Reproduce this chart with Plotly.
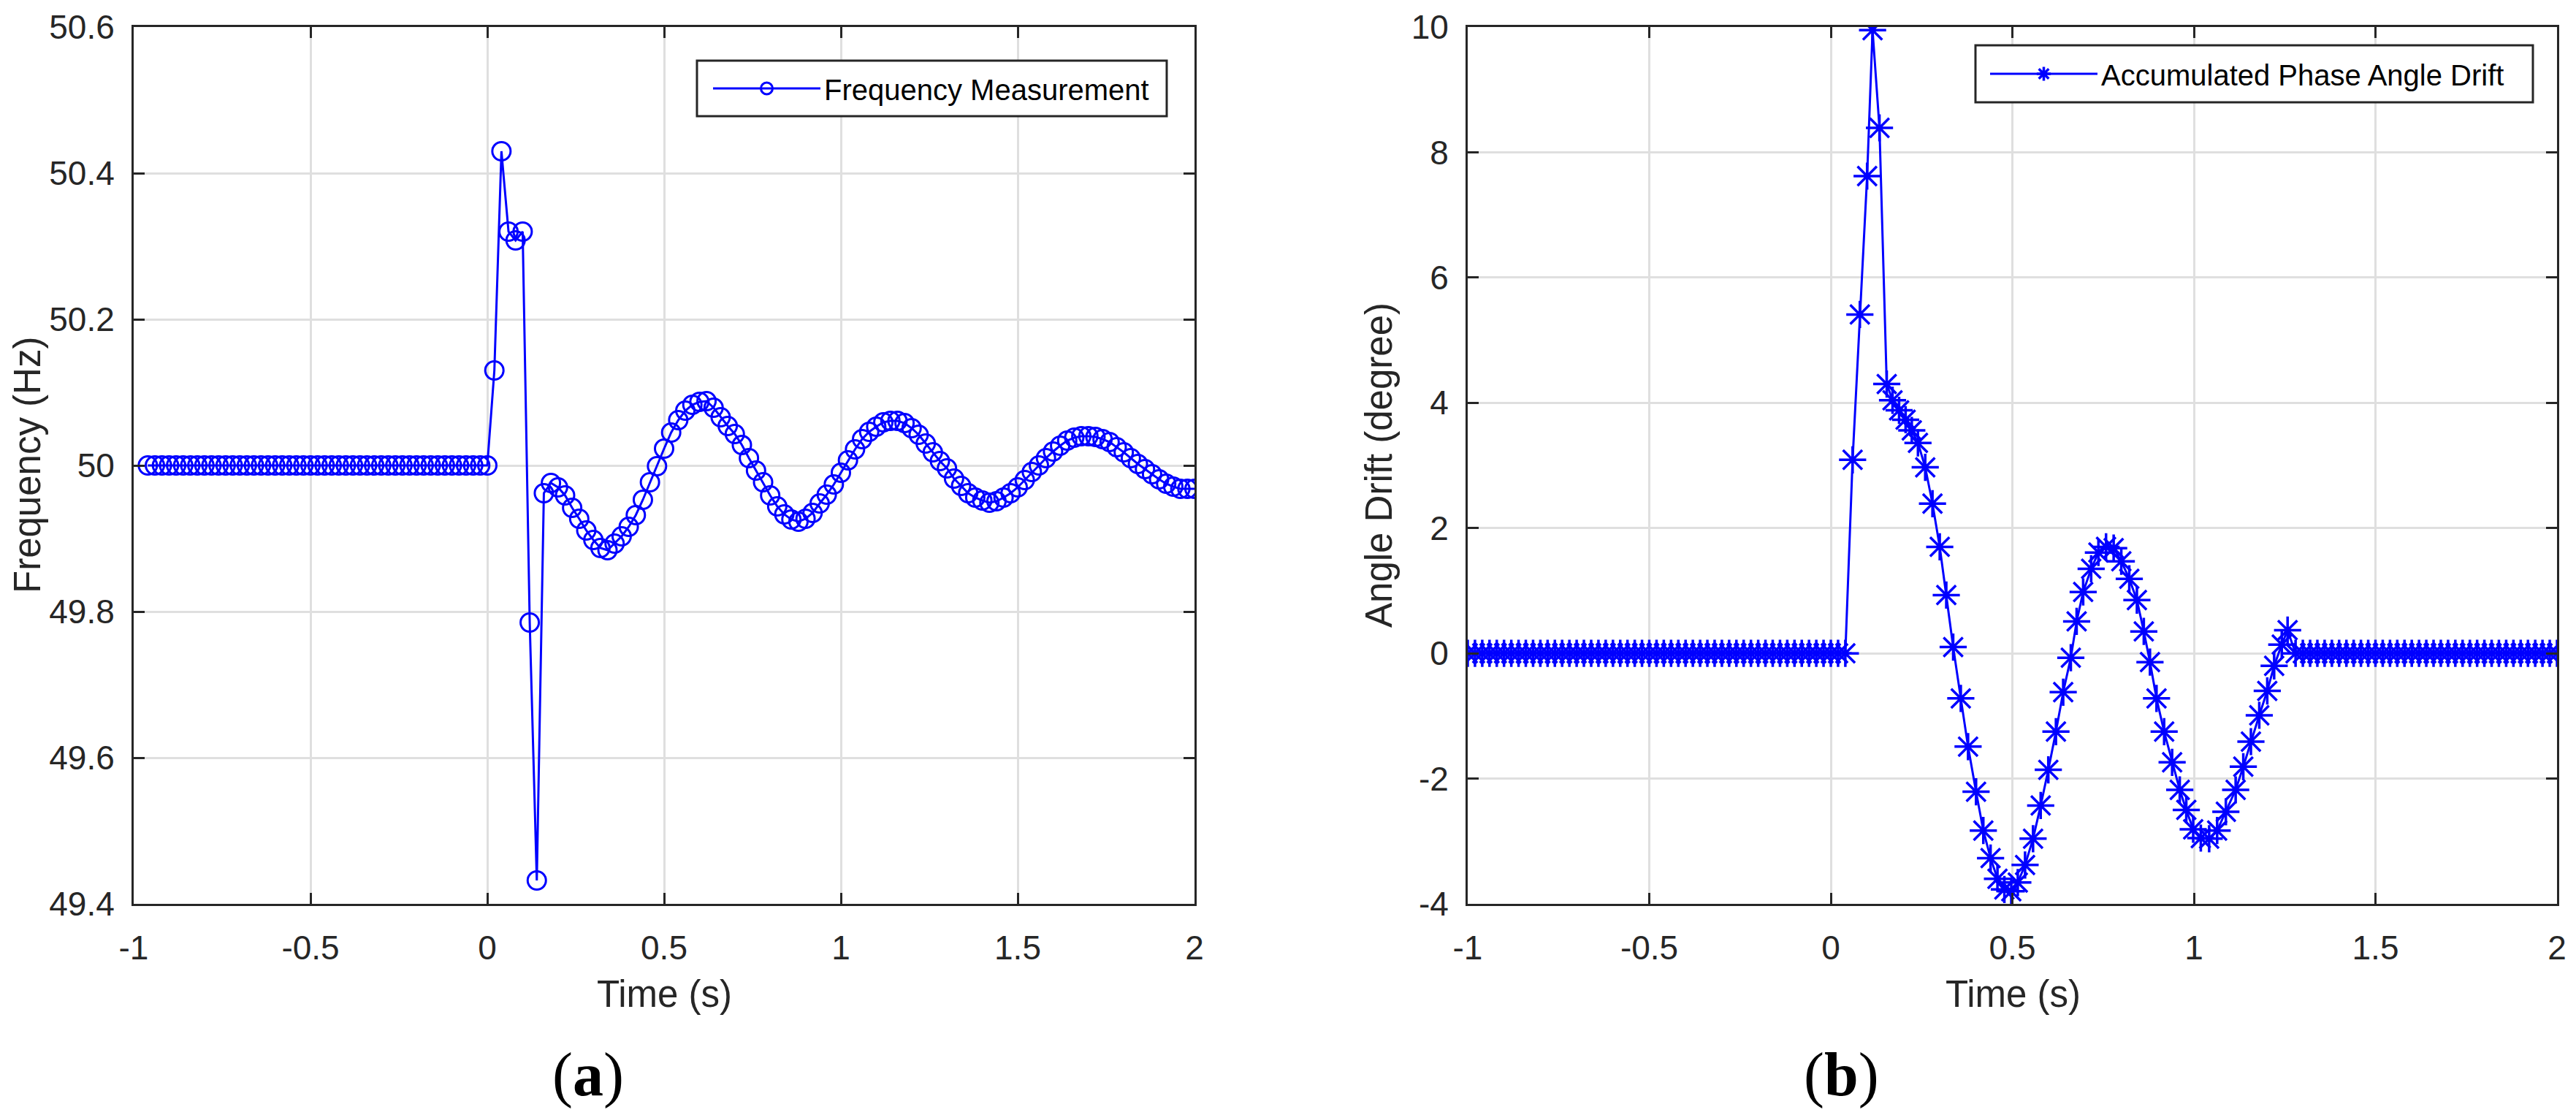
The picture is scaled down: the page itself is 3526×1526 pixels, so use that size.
import numpy as np
import plotly.graph_objects as go

BLUE = "#0000ff"
INK = "#262626"
GRID = "#dfdfdf"
SANS = "Liberation Sans, Arial, sans-serif"
SERIF = "Liberation Serif, Times New Roman, serif"
W, H = 3526, 1526
OFF = 8  # page body margin in the browser


def px(x):
    return (x - OFF) / W


def py(y):
    return 1 - (y - OFF) / H


# ---- (a) frequency measurement, sampled every 0.02 s ----
freq_t = np.round(np.arange(-0.96, 2.0001, 0.02), 2)
freq_pre = [50.0] * 49          # -0.96 .. 0.00 s
freq_post = [                   # 0.02 .. 2.00 s
    50.13, 50.43, 50.32, 50.308, 50.32, 49.785, 49.432, 49.962, 49.976, 49.970,
    49.959, 49.942, 49.927, 49.911, 49.898, 49.887, 49.884, 49.893, 49.903, 49.916,
    49.932, 49.953, 49.977, 49.999, 50.023, 50.045, 50.062, 50.075, 50.083, 50.087,
    50.088, 50.079, 50.066, 50.054, 50.043, 50.028, 50.010, 49.993, 49.977, 49.959,
    49.944, 49.933, 49.926, 49.923, 49.927, 49.935, 49.948, 49.960, 49.974, 49.990,
    50.007, 50.022, 50.036, 50.046, 50.053, 50.059, 50.061, 50.061, 50.058, 50.051,
    50.042, 50.030, 50.018, 50.006, 49.996, 49.982, 49.972, 49.962, 49.956, 49.952,
    49.949, 49.951, 49.956, 49.962, 49.970, 49.980, 49.991, 50.000, 50.010, 50.019,
    50.027, 50.034, 50.038, 50.040, 50.040, 50.039, 50.036, 50.032, 50.025, 50.018,
    50.010, 50.002, 49.995, 49.988, 49.981, 49.975, 49.971, 49.968, 49.968, 49.968,
]
freq_hz = freq_pre + freq_post

# ---- (b) accumulated phase angle drift ----
ang_pre_t = list(np.round(np.arange(-1.0, 0.0401, 0.02), 2))
ang_pre = [0.0] * len(ang_pre_t)
ang_mid_t = [
    0.06, 0.08, 0.10, 0.115, 0.134, 0.154, 0.17, 0.188, 0.206, 0.223,
    0.24, 0.26, 0.28, 0.30, 0.318, 0.337, 0.358, 0.378, 0.40, 0.42,
    0.44, 0.459, 0.478, 0.497, 0.515, 0.535, 0.557, 0.578, 0.599, 0.62,
    0.64, 0.661, 0.677, 0.695, 0.717, 0.737, 0.758, 0.779, 0.80, 0.822,
    0.843, 0.862, 0.879, 0.897, 0.918, 0.94, 0.961, 0.979, 0.998, 1.019,
    1.042, 1.064, 1.088, 1.115, 1.136, 1.157, 1.18, 1.202, 1.221, 1.242,
    1.258,
]
ang_mid = [
    3.09, 5.41, 7.62, 9.95, 8.39, 4.30, 4.04, 3.88, 3.73, 3.56,
    3.36, 2.97, 2.39, 1.70, 0.93, 0.10, -0.72, -1.49, -2.21, -2.83,
    -3.27, -3.60, -3.77, -3.80, -3.66, -3.38, -2.96, -2.43, -1.86, -1.25,
    -0.62, -0.07, 0.51, 0.98, 1.35, 1.61, 1.70, 1.68, 1.47, 1.19,
    0.85, 0.35, -0.14, -0.72, -1.25, -1.74, -2.18, -2.50, -2.81, -2.95,
    -2.96, -2.83, -2.53, -2.18, -1.81, -1.41, -0.99, -0.60, -0.20, 0.14,
    0.37,
]
ang_post_t = list(np.round(np.arange(1.28, 2.0001, 0.02), 2))
ang_post = [0.0] * len(ang_post_t)
ang_t = ang_pre_t + ang_mid_t + ang_post_t
ang_deg = ang_pre + ang_mid + ang_post

# ---- ticks ----
x_ticks = [-1, -0.5, 0, 0.5, 1, 1.5, 2]
x_labels = ["-1", "-0.5", "0", "0.5", "1", "1.5", "2"]
fy_ticks = [49.4, 49.6, 49.8, 50.0, 50.2, 50.4, 50.6]
fy_labels = ["49.4", "49.6", "49.8", "50", "50.2", "50.4", "50.6"]
ay_ticks = [-4, -2, 0, 2, 4, 6, 8, 10]
ay_labels = ["-4", "-2", "0", "2", "4", "6", "8", "10"]

fig = go.Figure()

fig.add_trace(go.Scatter(
    x=freq_t, y=freq_hz, mode="lines+markers", name="Frequency Measurement",
    line=dict(color=BLUE, width=3),
    marker=dict(symbol="circle-open", size=25, color=BLUE, line=dict(color=BLUE, width=3)),
    xaxis="x", yaxis="y", legend="legend",
))
fig.add_trace(go.Scatter(
    x=ang_t, y=ang_deg, mode="lines+markers", name="Accumulated Phase Angle Drift",
    line=dict(color=BLUE, width=3),
    marker=dict(symbol="asterisk-open", size=31, color=BLUE, line=dict(color=BLUE, width=3.5)),
    xaxis="x2", yaxis="y2", legend="legend2",
))

axis_common = dict(
    showline=True, linecolor=INK, linewidth=3, mirror="ticks",
    ticks="inside", ticklen=15, tickwidth=3, tickcolor=INK,
    showgrid=True, gridcolor=GRID, gridwidth=3, zeroline=False,
    automargin=False,
    tickfont=dict(family=SANS, size=46, color=INK),
)

y_dom = [py(1237), py(37)]

legend_common = dict(
    xanchor="left", yanchor="middle", bgcolor="rgba(0,0,0,0)", borderwidth=0,
    itemwidth=147, font=dict(family=SANS, size=40, color="black"),
)

fig.update_layout(
    width=W, height=H,
    margin=dict(l=0, r=0, t=0, b=0, pad=0, autoexpand=False),
    paper_bgcolor="white", plot_bgcolor="white",
    xaxis=dict(domain=[px(183), px(1635)], range=[-1, 2], anchor="y",
               tickvals=x_ticks, ticktext=x_labels, ticklabelstandoff=18, **axis_common),
    yaxis=dict(domain=y_dom, range=[49.4, 50.6], anchor="x",
               tickvals=fy_ticks, ticktext=fy_labels, ticklabelstandoff=14, **axis_common),
    xaxis2=dict(domain=[px(2009), px(3500)], range=[-1, 2], anchor="y2",
                tickvals=x_ticks, ticktext=x_labels, ticklabelstandoff=18, **axis_common),
    yaxis2=dict(domain=y_dom, range=[-4, 10], anchor="x2",
                tickvals=ay_ticks, ticktext=ay_labels, ticklabelstandoff=14, **axis_common),
    legend=dict(x=px(971), y=py(121), **legend_common),
    legend2=dict(x=px(2719), y=py(101), **legend_common),
    showlegend=True,
)

# legend frames (white boxes with dark border, as in the original)
for x0, x1, y0, y1 in [(954, 1597, 83, 159), (2704, 3467, 62, 140)]:
    fig.add_shape(type="rect", xref="paper", yref="paper",
                  x0=px(x0), x1=px(x1), y0=py(y1), y1=py(y0), layer="above",
                  fillcolor="white", line=dict(color=INK, width=3))

title_font = dict(family=SANS, size=51, color=INK)
label_font = dict(family=SERIF, size=84, color="black")
texts = [
    ("Time (s)", 909, 1360, 0, title_font),
    ("Time (s)", 2755, 1360, 0, title_font),
    ("Frequency (Hz)", 38, 637, -90, title_font),
    ("Angle Drift (degree)", 1888, 637, -90, title_font),
    ("(<b>a</b>)", 805, 1471, 0, label_font),
    ("(<b>b</b>)", 2520, 1471, 0, label_font),
]
for txt, x, y, ang, fnt in texts:
    fig.add_annotation(text=txt, x=px(x), y=py(y), xref="paper", yref="paper",
                       showarrow=False, font=fnt, textangle=ang,
                       xanchor="center", yanchor="middle")

fig.write_html("out.html")
